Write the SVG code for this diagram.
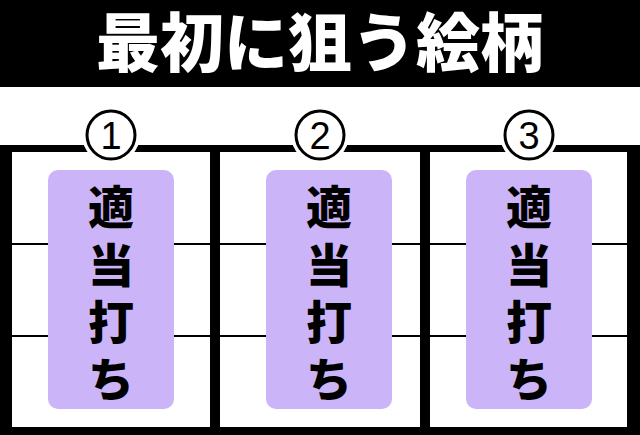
<svg xmlns="http://www.w3.org/2000/svg" width="640" height="435" viewBox="0 0 640 435">
<style>
.t{font-family:"Noto Sans CJK JP","Noto Sans",sans-serif;font-weight:900;text-anchor:middle}
.v{font-size:46px;fill:#000}
.n{font-family:"Liberation Sans",sans-serif;font-size:38px;text-anchor:middle}
.c{fill:#fff;stroke:#000;stroke-width:3}
.box{fill:#cbb4f8}
.ln{stroke:#000;stroke-width:2}
</style>
<rect width="640" height="435" fill="#fff"/>
<rect width="640" height="87" fill="#000"/>
<text class="t" x="320" y="66" font-size="64" fill="#fff">最初に狙う絵柄</text>
<rect x="0" y="145" width="640" height="290" fill="#000"/>
<rect x="12" y="152" width="198" height="275" fill="#fff"/>
<rect x="220" y="152" width="200" height="275" fill="#fff"/>
<rect x="430" y="152" width="197" height="275" fill="#fff"/>
<g id="lines">
<line class="ln" x1="12" y1="244" x2="627" y2="244"/>
<line class="ln" x1="12" y1="336" x2="627" y2="336"/>
<rect x="210" y="145" width="10" height="290" fill="#000"/>
<rect x="420" y="145" width="10" height="290" fill="#000"/>
</g>
<g id="reel1">
<circle cx="111" cy="135" r="29" fill="#fff"/>
<circle class="c" cx="111" cy="135" r="24"/>
<text class="n" x="111" y="149">1</text>
<rect class="box" x="48" y="170" width="126" height="239" rx="10"/>
<text class="t v" x="111" y="224">適</text>
<text class="t v" x="111" y="282">当</text>
<text class="t v" x="111" y="339">打</text>
<text class="t v" x="111" y="396">ち</text>
</g>
<g id="reel2">
<circle cx="320" cy="135" r="29" fill="#fff"/>
<circle class="c" cx="320" cy="135" r="24"/>
<text class="n" x="320" y="149">2</text>
<rect class="box" x="266" y="170" width="126" height="239" rx="10"/>
<text class="t v" x="329" y="224">適</text>
<text class="t v" x="329" y="282">当</text>
<text class="t v" x="329" y="339">打</text>
<text class="t v" x="329" y="396">ち</text>
</g>
<g id="reel3">
<circle cx="529" cy="135" r="29" fill="#fff"/>
<circle class="c" cx="529" cy="135" r="24"/>
<text class="n" x="529" y="149">3</text>
<rect class="box" x="466" y="170" width="126" height="239" rx="10"/>
<text class="t v" x="529" y="224">適</text>
<text class="t v" x="529" y="282">当</text>
<text class="t v" x="529" y="339">打</text>
<text class="t v" x="529" y="396">ち</text>
</g>
</svg>
